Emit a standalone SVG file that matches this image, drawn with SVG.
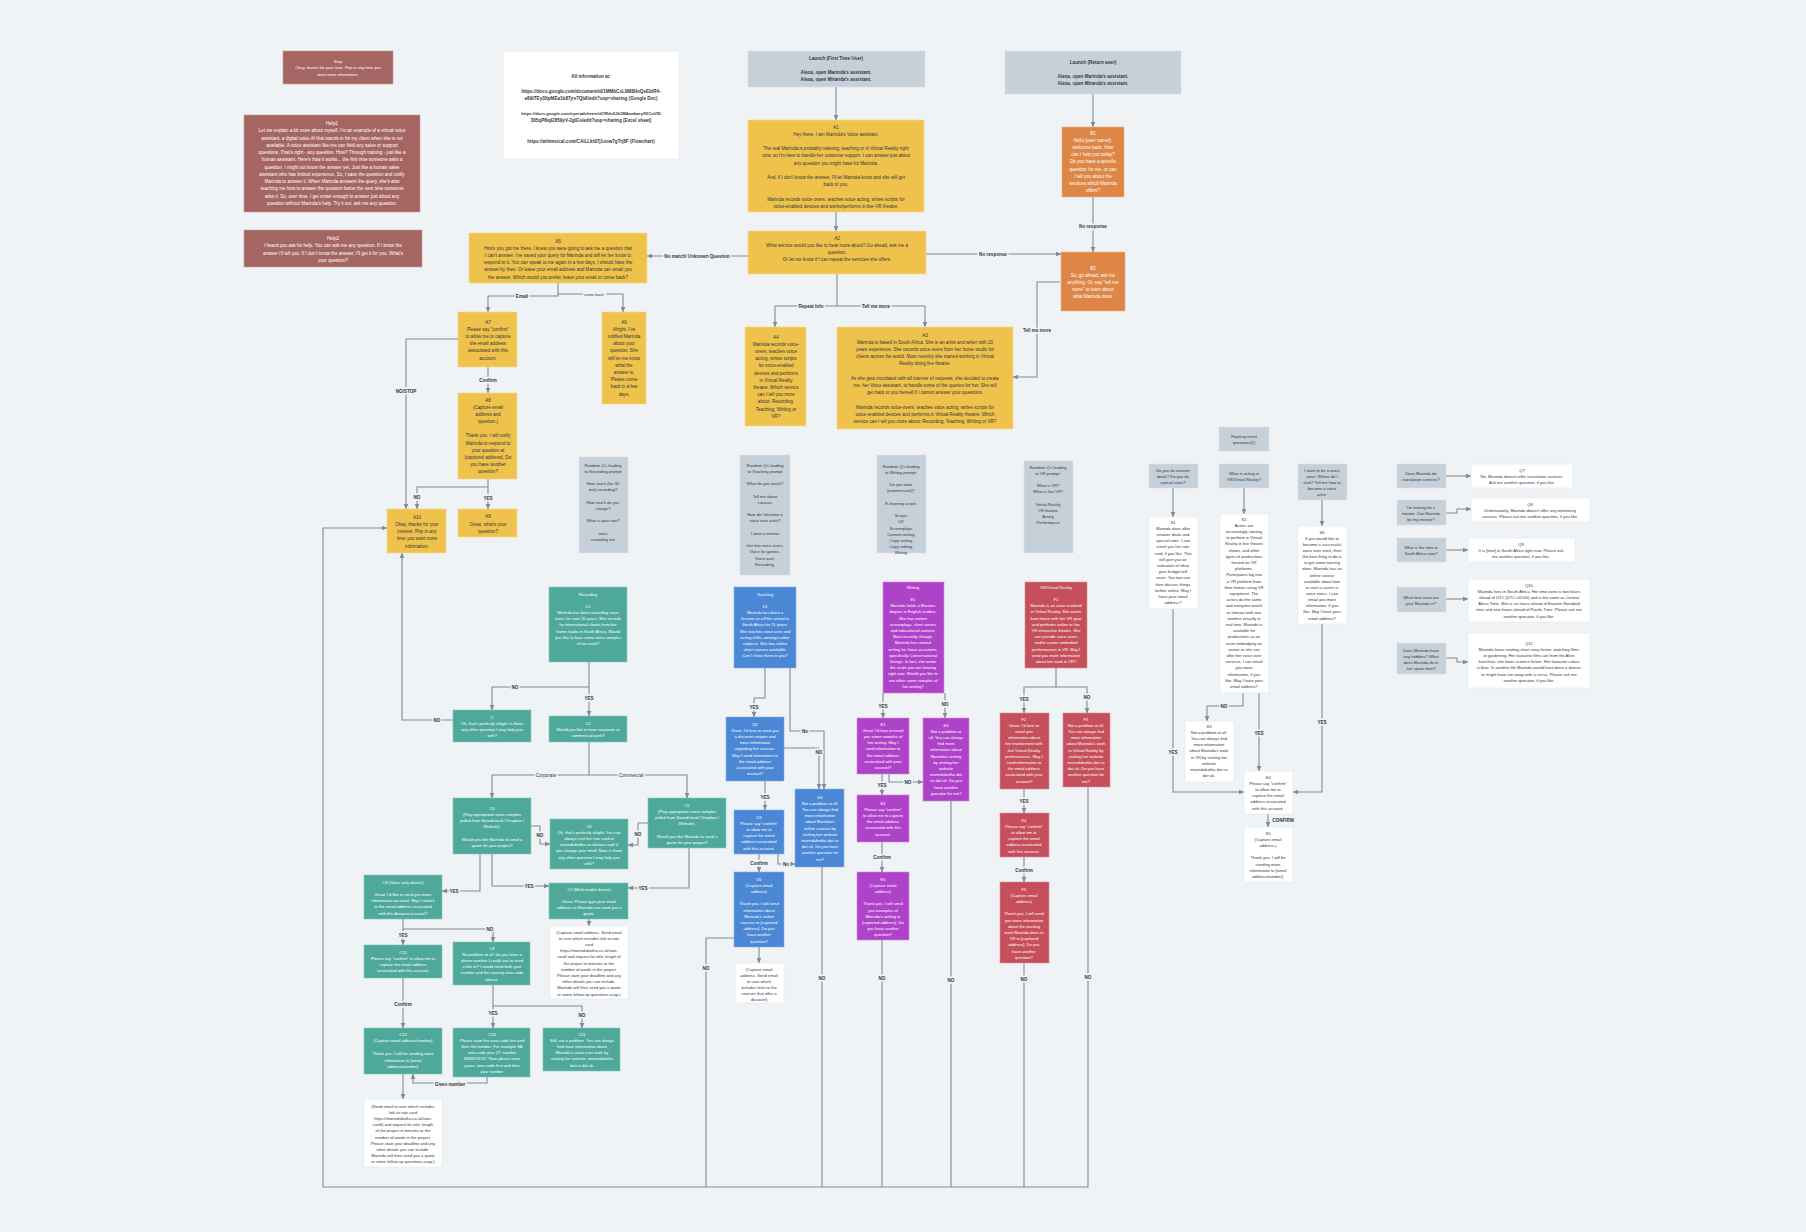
<svg xmlns="http://www.w3.org/2000/svg" width="1806" height="1232" viewBox="0 0 1806 1232">
<defs>
<marker id="ah" viewBox="0 0 6 6" refX="5.5" refY="3" markerWidth="5" markerHeight="5" orient="auto"><path d="M0,0.5 L6,3 L0,5.5 z" fill="#7d8b9a"/></marker>
<style>
text{font-family:"Liberation Sans",Arial,sans-serif;text-anchor:middle}
.s4{font-size:4.6px}.s3{font-size:4.1px}
.d{fill:#33373d}.w{fill:#ffffff}.b{font-weight:bold}
.help{fill:#a46563;stroke:#c99a98;stroke-width:0.6}
.yel{fill:#efc24c;stroke:#f5d98a;stroke-width:0.6}
.org{fill:#dd8645;stroke:#ecb386;stroke-width:0.6}
.gry{fill:#c6d0d9;stroke:#d9e0e6;stroke-width:0.6}
.tea{fill:#4fa99b;stroke:#86c6bc;stroke-width:0.6}
.blu{fill:#4a87d5;stroke:#88b0e6;stroke-width:0.6}
.pur{fill:#ae43c9;stroke:#cd8bde;stroke-width:0.6}
.red{fill:#c5505b;stroke:#dc8d94;stroke-width:0.6}
.wht{fill:#ffffff;stroke:#e2e7ec;stroke-width:0.6}
.c{fill:none;stroke:#7d8b9a;stroke-width:1.1;stroke-linejoin:round}
.ca{fill:none;stroke:#7d8b9a;stroke-width:1.1;stroke-linejoin:round;marker-end:url(#ah)}
.lbl{font-size:4.6px;font-weight:bold;fill:#33373d;paint-order:stroke;stroke:#eff3f6;stroke-width:3px}
</style>
</defs>
<rect width="1806" height="1232" fill="#eff3f6"/>

<g id="connectors">
<path class="ca" d="M836 87 V120"/>
<path class="ca" d="M836 212 V231"/>
<path class="ca" d="M1093 94 V127"/>
<path class="ca" d="M1093 197 V252"/>
<path class="ca" d="M926 254 H1061"/>
<path class="ca" d="M748 256 H647"/>
<path class="ca" d="M837 274 V306 H775 V327"/>
<path class="ca" d="M837 306 H925 V327"/>
<path class="ca" d="M1060 282 H1037 V377 H1013"/>
<path class="ca" d="M558 283 V296 H488 V312"/>
<path class="ca" d="M558 294 H623 V312"/>
<path class="ca" d="M458 339 H406 V509"/>
<path class="ca" d="M488 367 V393"/>
<path class="ca" d="M488 479 V487 H417 V509"/>
<path class="ca" d="M488 487 V509"/>
<path class="ca" d="M453 720 H402 V553"/>
<path class="ca" d="M1088 787 V1187 H323 V528 H387"/>
<path class="c" d="M1024 963 V1187"/>
<path class="c" d="M951 801 V1187"/>
<path class="c" d="M882 940 V1187"/>
<path class="c" d="M822 867 V1187"/>
<path class="c" d="M734 938 H706 V1187"/>
<path class="ca" d="M589 662 V687 H492 V710"/>
<path class="ca" d="M589 687 V716"/>
<path class="ca" d="M589 742 V775 H492 V798"/>
<path class="ca" d="M589 775 H687 V798"/>
<path class="ca" d="M531 826 H540 V844 H550"/>
<path class="ca" d="M648 823 H638 V845 H628"/>
<path class="ca" d="M480 854 V891 H442"/>
<path class="ca" d="M492 854 V886 H549"/>
<path class="ca" d="M689 848 V888 H628"/>
<path class="ca" d="M589 919 V926"/>
<path class="ca" d="M403 919 V945"/>
<path class="ca" d="M403 929 H493 V942"/>
<path class="ca" d="M403 978 V1028"/>
<path class="ca" d="M493 985 V1028"/>
<path class="ca" d="M493 1006 H582 V1028"/>
<path class="ca" d="M487 1077 V1083 H413 V1074"/>
<path class="ca" d="M403 1074 V1099"/>
<path class="ca" d="M765 668 V698 H754 V717"/>
<path class="ca" d="M790 668 V731 H824 V789"/>
<path class="ca" d="M784 748 H819 V789"/>
<path class="ca" d="M765 781 V810"/>
<path class="ca" d="M759 854 V872"/>
<path class="ca" d="M778 854 V864 H795"/>
<path class="ca" d="M759 947 V963"/>
<path class="ca" d="M883 693 V718"/>
<path class="ca" d="M945 693 V718"/>
<path class="ca" d="M889 774 V782 H923"/>
<path class="ca" d="M882 774 V795"/>
<path class="ca" d="M882 842 V872"/>
<path class="ca" d="M1056 668 V687 H1024 V713"/>
<path class="ca" d="M1056 687 H1087 V713"/>
<path class="ca" d="M1024 789 V813"/>
<path class="ca" d="M1024 857 V882"/>
<path class="ca" d="M1173 488 V517"/>
<path class="ca" d="M1244 488 V514"/>
<path class="ca" d="M1322 500 V526"/>
<path class="ca" d="M1173 609 V792 H1244"/>
<path class="ca" d="M1243 693 V706 H1207 V721"/>
<path class="ca" d="M1259 693 V771"/>
<path class="ca" d="M1322 624 V792 H1293"/>
<path class="ca" d="M1268 814 V827"/>
<path class="ca" d="M1446 476 H1471"/>
<path class="ca" d="M1446 513 H1457 V509 H1471"/>
<path class="ca" d="M1446 550 H1468"/>
<path class="ca" d="M1446 599 H1468"/>
<path class="ca" d="M1446 658 H1457 V662 H1468"/>
<text class="lbl" x="1093" y="227.5">No response</text>
<text class="lbl" x="993" y="255.5">No response</text>
<text class="lbl" x="697" y="257.5">No match/ Unknown Question</text>
<text class="lbl" x="811" y="307.5">Repeat Info</text>
<text class="lbl" x="876" y="307.5">Tell me more</text>
<text class="lbl" x="1037" y="331.5">Tell me more</text>
<text class="lbl" x="522" y="297.5">Email</text>
<text class="lbl" x="594" y="295.5" style="font-weight:normal;font-size:4.1px">come back</text>
<text class="lbl" x="406" y="392.5">NO/STOP</text>
<text class="lbl" x="488" y="381.5">Confirm</text>
<text class="lbl" x="417" y="498.5">NO</text>
<text class="lbl" x="488" y="499.5">YES</text>
<text class="lbl" x="437" y="721.5">NO</text>
<text class="lbl" x="515" y="688.5">NO</text>
<text class="lbl" x="589" y="699.5">YES</text>
<text class="lbl" x="546" y="776.5" style="font-weight:normal">Corporate</text>
<text class="lbl" x="631" y="776.5" style="font-weight:normal">Commercial</text>
<text class="lbl" x="540" y="836.5">NO</text>
<text class="lbl" x="638" y="835.5">NO</text>
<text class="lbl" x="454" y="892.5">YES</text>
<text class="lbl" x="529" y="887.5">YES</text>
<text class="lbl" x="643" y="889.5">YES</text>
<text class="lbl" x="403" y="936.5">YES</text>
<text class="lbl" x="490" y="930.5">NO</text>
<text class="lbl" x="403" y="1005.5">Confirm</text>
<text class="lbl" x="493" y="1014.5">YES</text>
<text class="lbl" x="582" y="1016.5">NO</text>
<text class="lbl" x="450" y="1085.5">Gives number</text>
<text class="lbl" x="754" y="708.5">YES</text>
<text class="lbl" x="805" y="732.5">No</text>
<text class="lbl" x="819" y="753.5">NO</text>
<text class="lbl" x="765" y="798.5">YES</text>
<text class="lbl" x="759" y="864.5">Confirm</text>
<text class="lbl" x="786" y="865.5">No</text>
<text class="lbl" x="883" y="707.5">YES</text>
<text class="lbl" x="945" y="705.5">NO</text>
<text class="lbl" x="908" y="783.5">NO</text>
<text class="lbl" x="882" y="786.5">YES</text>
<text class="lbl" x="882" y="858.5">Confirm</text>
<text class="lbl" x="1024" y="700.5">YES</text>
<text class="lbl" x="1087" y="698.5">NO</text>
<text class="lbl" x="1024" y="802.5">YES</text>
<text class="lbl" x="1024" y="871.5">Confirm</text>
<text class="lbl" x="706" y="969.5">NO</text>
<text class="lbl" x="822" y="979.5">NO</text>
<text class="lbl" x="882" y="979.5">NO</text>
<text class="lbl" x="951" y="981.5">NO</text>
<text class="lbl" x="1024" y="980.5">NO</text>
<text class="lbl" x="1088" y="978.5">NO</text>
<text class="lbl" x="1173" y="753.5">YES</text>
<text class="lbl" x="1224" y="707.5">NO</text>
<text class="lbl" x="1259" y="734.5">YES</text>
<text class="lbl" x="1322" y="723.5">YES</text>
<text class="lbl" x="1283" y="821.5">CONFIRM</text>
</g>

<g id="stop"><rect class="help" x="283" y="51" width="110" height="33"/>
<text class="w s3" x="338" y="63"><tspan x="338">Stop</tspan><tspan x="338" dy="6.3">Okay, thanks for your time. Pop in any time you</tspan><tspan x="338" dy="6.3">want more information.</tspan></text></g>

<g id="help1"><rect class="help" x="244" y="115" width="176" height="97"/>
<text class="w s4" x="332" y="125"><tspan x="332">Help1</tspan><tspan x="332" dy="7.25">Let me explain a bit more about myself. I'm an example of a virtual voice</tspan><tspan x="332" dy="7.25">assistant, a digital voice AI that stands in for my client when she is not</tspan><tspan x="332" dy="7.25">available. A voice assistant like me can field any sales or support</tspan><tspan x="332" dy="7.25">questions. That's right - any question. How? Through training - just like a</tspan><tspan x="332" dy="7.25">human assistant. Here's how it works... the first time someone asks a</tspan><tspan x="332" dy="7.25">question, I might not know the answer yet. Just like a human sales</tspan><tspan x="332" dy="7.25">assistant who has limited experience. So, I save the question and notify</tspan><tspan x="332" dy="7.25">Marinda to answer it. When Marinda answers the query, she's also</tspan><tspan x="332" dy="7.25">teaching me how to answer the question better the next time someone</tspan><tspan x="332" dy="7.25">asks it. So, over time, I get smart enough to answer just about any</tspan><tspan x="332" dy="7.25">question without Marinda's help. Try it out, ask me any question.</tspan></text></g>

<g id="help2"><rect class="help" x="244" y="230" width="178" height="37"/>
<text class="w s4" x="333" y="240"><tspan x="333">Help2</tspan><tspan x="333" dy="7.3">I heard you ask for help. You can ask me any question. If I know the</tspan><tspan x="333" dy="7.3">answer I'll tell you. If I don't know the answer, I'll get it for you. What's</tspan><tspan x="333" dy="7.3">your question?</tspan></text></g>

<g id="allinfo"><rect class="wht" x="503" y="51" width="176" height="108"/>
<text class="d s4 b" x="591" y="78"><tspan x="591">All information at:</tspan><tspan x="591" dy="14.7">https://docs.google.com/document/d/1MMbCsL0M8HoQeEbIR4-</tspan><tspan x="591" dy="7.2">e89tTEy3XpMEa1b87jrv7Qb8/edit?usp=sharing (Google Doc)</tspan><tspan x="591" dy="14.6" font-size="4.2">https://docs.google.com/spreadsheets/d/1Rds5Jk1M4awkaxyX5CoVID</tspan><tspan x="591" dy="7.6">305qP8iqI2859yV-2gIGs/edit?usp=sharing (Excel sheet)</tspan><tspan x="591" dy="21.2">https://whimsical.com/CAiLLkt97j1oow7gTrj8F (Flowchart)</tspan></text></g>

<g id="launch1"><rect class="gry" x="748" y="51" width="177" height="36"/>
<text class="d s4 b" x="836" y="59.5"><tspan x="836">Launch (First Time User)</tspan><tspan x="836" dy="14.5">Alexa, open Marinda's assistant.</tspan><tspan x="836" dy="7.2">Alexa, open Miranda's assistant.</tspan></text></g>

<g id="launch2"><rect class="gry" x="1005" y="51" width="176" height="43"/>
<text class="d s4 b" x="1093" y="63.5"><tspan x="1093">Launch (Return user)</tspan><tspan x="1093" dy="14">Alexa, open Marinda's assistant.</tspan><tspan x="1093" dy="7.3">Alexa, open Miranda's assistant.</tspan></text></g>

<g id="A1"><rect class="yel" x="748" y="120" width="176" height="92"/>
<text class="d s4" x="836" y="128.5"><tspan x="836">A1</tspan><tspan x="836" dy="7.3">Hey there. I am Marinda's Voice assistant.</tspan><tspan x="836" dy="14.3">The real Marinda is probably relaxing, teaching or in Virtual Reality right</tspan><tspan x="836" dy="7.2">now, so I'm here to handle her customer support. I can answer just about</tspan><tspan x="836" dy="7.2">any question you might have for Marinda.</tspan><tspan x="836" dy="14.3">And, if I don't know the answer, I'll let Marinda know and she will get</tspan><tspan x="836" dy="7.2">back to you.</tspan><tspan x="836" dy="14.7">Marinda records voice overs, teaches voice acting, writes scripts for</tspan><tspan x="836" dy="7.2">voice-enabled devices and works/performs in live-VR theatre.</tspan></text></g>

<g id="A2"><rect class="yel" x="748" y="231" width="178" height="43"/>
<text class="d s4" x="837" y="239.5"><tspan x="837">A2</tspan><tspan x="837" dy="7.3">What service would you like to hear more about? Go ahead, ask me a</tspan><tspan x="837" dy="7.3">question.</tspan><tspan x="837" dy="7.3">Or let me know if I can repeat the services she offers.</tspan></text></g>

<g id="B1"><rect class="org" x="1062" y="127" width="62" height="70"/>
<text class="w s4" x="1093" y="134.5"><tspan x="1093">B1</tspan><tspan x="1093" dy="7.2">Hello [user name]!,</tspan><tspan x="1093" dy="7.2">welcome back. How</tspan><tspan x="1093" dy="7.2">can I help you today?</tspan><tspan x="1093" dy="7.2">Do you have a specific</tspan><tspan x="1093" dy="7.2">question for me, or can</tspan><tspan x="1093" dy="7.2">I tell you about the</tspan><tspan x="1093" dy="7.2">services which Marinda</tspan><tspan x="1093" dy="7.2">offers?</tspan></text></g>

<g id="B2"><rect class="org" x="1061" y="252" width="64" height="59"/>
<text class="w s4" x="1093" y="269.5"><tspan x="1093">B2</tspan><tspan x="1093" dy="7.2">So, go ahead, ask me</tspan><tspan x="1093" dy="7.2">anything. Or, say &quot;tell me</tspan><tspan x="1093" dy="7.2">more&quot; to learn about</tspan><tspan x="1093" dy="7.2">what Marinda does.</tspan></text></g>

<g id="A5"><rect class="yel" x="469" y="233" width="178" height="50"/>
<text class="d s4" x="558" y="242.5"><tspan x="558">A5</tspan><tspan x="558" dy="7.2">Hmm you got me there. I knew you were going to ask me a question that</tspan><tspan x="558" dy="7.2">I can't answer. I've saved your query for Marinda and will let her know to</tspan><tspan x="558" dy="7.2">respond to it. You can speak to me again in a few days, I should have the</tspan><tspan x="558" dy="7.2">answer by then. Or leave your email address and Marinda can email you</tspan><tspan x="558" dy="7.2">the answer. Which would you prefer, leave your email or come back?</tspan></text></g>

<g id="A7"><rect class="yel" x="458" y="312" width="59" height="55"/>
<text class="d s4" x="488" y="323.5"><tspan x="488">A7</tspan><tspan x="488" dy="7.2">Please say &quot;confirm&quot;</tspan><tspan x="488" dy="7.2">to allow me to capture</tspan><tspan x="488" dy="7.2">the email address</tspan><tspan x="488" dy="7.2">associated with this</tspan><tspan x="488" dy="7.2">account.</tspan></text></g>

<g id="A6"><rect class="yel" x="602" y="312" width="44" height="92"/>
<text class="d s4" x="624" y="323.5"><tspan x="624">A6</tspan><tspan x="624" dy="7.2">Alright. I've</tspan><tspan x="624" dy="7.2">notified Marinda</tspan><tspan x="624" dy="7.2">about your</tspan><tspan x="624" dy="7.2">question. She</tspan><tspan x="624" dy="7.2">will let me know</tspan><tspan x="624" dy="7.2">what the</tspan><tspan x="624" dy="7.2">answer is.</tspan><tspan x="624" dy="7.2">Please come</tspan><tspan x="624" dy="7.2">back in a few</tspan><tspan x="624" dy="7.2">days.</tspan></text></g>

<g id="A8"><rect class="yel" x="458" y="393" width="59" height="86"/>
<text class="d s4" x="488" y="401.5"><tspan x="488">A8</tspan><tspan x="488" dy="7.2">(Capture email</tspan><tspan x="488" dy="7.2">address and</tspan><tspan x="488" dy="7.2">question.)</tspan><tspan x="488" dy="14.2">Thank you. I will notify</tspan><tspan x="488" dy="7.2">Marinda to respond to</tspan><tspan x="488" dy="7.2">your question at</tspan><tspan x="488" dy="7.2">[captured address]. Do</tspan><tspan x="488" dy="7.2">you have another</tspan><tspan x="488" dy="7.2">question?</tspan></text></g>

<g id="A10"><rect class="yel" x="387" y="509" width="59" height="44"/>
<text class="d s4" x="417" y="518.5"><tspan x="417">A10</tspan><tspan x="417" dy="7.3">Okay, thanks for your</tspan><tspan x="417" dy="7.3">interest. Pop in any</tspan><tspan x="417" dy="7.3">time you want more</tspan><tspan x="417" dy="7.3">information.</tspan></text></g>

<g id="A9"><rect class="yel" x="458" y="509" width="59" height="28"/>
<text class="d s4" x="488" y="518"><tspan x="488">A9</tspan><tspan x="488" dy="7.5">Great, what's your</tspan><tspan x="488" dy="7.3">question?</tspan></text></g>

<g id="A4"><rect class="yel" x="745" y="327" width="61" height="99"/>
<text class="d s4" x="776" y="338.5"><tspan x="776">A4</tspan><tspan x="776" dy="7.2">Marinda records voice-</tspan><tspan x="776" dy="7.2">overs, teaches voice</tspan><tspan x="776" dy="7.2">acting, writes scripts</tspan><tspan x="776" dy="7.2">for voice-enabled</tspan><tspan x="776" dy="7.2">devices and performs</tspan><tspan x="776" dy="7.2">in Virtual Reality</tspan><tspan x="776" dy="7.2">theatre. Which service</tspan><tspan x="776" dy="7.2">can I tell you more</tspan><tspan x="776" dy="7.2">about: Recording,</tspan><tspan x="776" dy="7.2">Teaching, Writing or</tspan><tspan x="776" dy="7.2">VR?</tspan></text></g>

<g id="A3"><rect class="yel" x="837" y="327" width="176" height="102"/>
<text class="d s4" x="925" y="336.5"><tspan x="925">A3</tspan><tspan x="925" dy="7.2">Marinda is based in South Africa. She is an artist and writer with 20</tspan><tspan x="925" dy="7.2">years experience. She records voice overs from her home studio for</tspan><tspan x="925" dy="7.2">clients across the world. Most recently she started working in Virtual</tspan><tspan x="925" dy="7.2">Reality doing live theatre.</tspan><tspan x="925" dy="14.4">As she gets inundated with all manner of requests, she decided to create</tspan><tspan x="925" dy="7.2">me, her Voice assistant, to handle some of the queries for her. She will</tspan><tspan x="925" dy="7.2">get back to you herself if I cannot answer your questions.</tspan><tspan x="925" dy="14.4">Marinda records voice-overs, teaches voice acting, writes scripts for</tspan><tspan x="925" dy="7.2">voice-enabled devices and performs in Virtual Reality theatre. Which</tspan><tspan x="925" dy="7.2">service can I tell you more about: Recording, Teaching, Writing or VR?</tspan></text></g>

<g id="rq-recording"><rect class="gry" x="579" y="457" width="49" height="96"/>
<text class="d s3" x="603" y="466.5"><tspan x="603">Random Q's leading</tspan><tspan x="603" dy="6.2">to Recording prompt</tspan><tspan x="603" dy="12.4">How much (for 30</tspan><tspan x="603" dy="6.2">min) recording?</tspan><tspan x="603" dy="12.4">How much do you</tspan><tspan x="603" dy="6.2">charge?</tspan><tspan x="603" dy="12.4">What is your rate?</tspan><tspan x="603" dy="12.4">rates</tspan><tspan x="603" dy="6.2">recording fee</tspan></text></g>

<g id="rq-teaching"><rect class="gry" x="740" y="455" width="50" height="120"/>
<text class="d s3" x="765" y="466.5"><tspan x="765">Random Q's leading</tspan><tspan x="765" dy="6.2">to Teaching prompt</tspan><tspan x="765" dy="12.4">What do you teach?</tspan><tspan x="765" dy="12.4">Tell me about</tspan><tspan x="765" dy="6.2">courses</tspan><tspan x="765" dy="12.4">How do I become a</tspan><tspan x="765" dy="6.2">voice over artist?</tspan><tspan x="765" dy="12.4">I want a mentor</tspan><tspan x="765" dy="12.4">Get into voice overs.</tspan><tspan x="765" dy="6.2">Voice for games.</tspan><tspan x="765" dy="6.2">Voice over.</tspan><tspan x="765" dy="6.2">Recording.</tspan></text></g>

<g id="rq-writing"><rect class="gry" x="877" y="455" width="49" height="98"/>
<text class="d s3" x="901" y="467.5"><tspan x="901">Random Q's leading</tspan><tspan x="901" dy="6.2">to Writing prompt:</tspan><tspan x="901" dy="12.4">Do you write</tspan><tspan x="901" dy="6.2">[commercials]?</tspan><tspan x="901" dy="12.4">E-learning scripts</tspan><tspan x="901" dy="12.4">Scripts</tspan><tspan x="901" dy="6.2">UX</tspan><tspan x="901" dy="6.2">Screenplays</tspan><tspan x="901" dy="6.2">Content writing</tspan><tspan x="901" dy="6.2">Copy writing</tspan><tspan x="901" dy="6.2">Copy editing</tspan><tspan x="901" dy="6.2">Writing</tspan></text></g>

<g id="rq-vr"><rect class="gry" x="1024" y="461" width="49" height="92"/>
<text class="d s3" x="1048" y="468.5"><tspan x="1048">Random Q's leading</tspan><tspan x="1048" dy="6.2">to VR prompt:</tspan><tspan x="1048" dy="12.4">What is VR?</tspan><tspan x="1048" dy="6.2">What is live VR?</tspan><tspan x="1048" dy="12.4">Virtual Reality</tspan><tspan x="1048" dy="6.2">VR theatre</tspan><tspan x="1048" dy="6.2">Acting</tspan><tspan x="1048" dy="6.2">Performance</tspan></text></g>

<g id="floating"><rect class="gry" x="1219" y="427" width="50" height="24"/>
<text class="d s3" x="1244" y="437.5"><tspan x="1244">Floating intent</tspan><tspan x="1244" dy="6.2">questions(2)</tspan></text></g>

<g id="q-retainer"><rect class="gry" x="1149" y="464" width="49" height="24"/>
<text class="d s3" x="1173" y="471.5"><tspan x="1173">Do you do retainer</tspan><tspan x="1173" dy="6.2">deals? Do you do</tspan><tspan x="1173" dy="6.2">special rates?</tspan></text></g>

<g id="q-actingvr"><rect class="gry" x="1219" y="464" width="50" height="24"/>
<text class="d s3" x="1244" y="474.5"><tspan x="1244">What is acting in</tspan><tspan x="1244" dy="6.2">VR/Virtual Reality?</tspan></text></g>

<g id="q-voiceartist"><rect class="gry" x="1298" y="464" width="49" height="36"/>
<text class="d s3" x="1322" y="471.5"><tspan x="1322">I want to be a voice</tspan><tspan x="1322" dy="6.1">artist. Where do I</tspan><tspan x="1322" dy="6.1">start? Tell me how to</tspan><tspan x="1322" dy="6.1">become a voice</tspan><tspan x="1322" dy="6.1">artist.</tspan></text></g>

<g id="S1"><rect class="wht" x="1149" y="517" width="49" height="92"/>
<text class="d s3" x="1173" y="523.5"><tspan x="1173">S1</tspan><tspan x="1173" dy="6.2">Marinda does offer</tspan><tspan x="1173" dy="6.2">retainer deals and</tspan><tspan x="1173" dy="6.2">special rates. I can</tspan><tspan x="1173" dy="6.2">email you her rate</tspan><tspan x="1173" dy="6.2">card, if you like. This</tspan><tspan x="1173" dy="6.2">will give you an</tspan><tspan x="1173" dy="6.2">indication of what</tspan><tspan x="1173" dy="6.2">your budget will</tspan><tspan x="1173" dy="6.2">cover. You two can</tspan><tspan x="1173" dy="6.2">then discuss things</tspan><tspan x="1173" dy="6.2">further online. May I</tspan><tspan x="1173" dy="6.2">have your email</tspan><tspan x="1173" dy="6.2">address?</tspan></text></g>

<g id="S2"><rect class="wht" x="1220" y="514" width="49" height="179"/>
<text class="d s3" x="1244" y="520.5"><tspan x="1244">S2</tspan><tspan x="1244" dy="6.2">Actors are</tspan><tspan x="1244" dy="6.2">increasingly starting</tspan><tspan x="1244" dy="6.2">to perform in Virtual</tspan><tspan x="1244" dy="6.2">Reality in live theatre</tspan><tspan x="1244" dy="6.2">shows, and other</tspan><tspan x="1244" dy="6.2">types of productions</tspan><tspan x="1244" dy="6.2">hosted on VR</tspan><tspan x="1244" dy="6.2">platforms.</tspan><tspan x="1244" dy="6.2">Participants log into</tspan><tspan x="1244" dy="6.2">a VR platform from</tspan><tspan x="1244" dy="6.2">their homes using VR</tspan><tspan x="1244" dy="6.2">equipment. The</tspan><tspan x="1244" dy="6.2">actors do the same</tspan><tspan x="1244" dy="6.2">and everyone watch</tspan><tspan x="1244" dy="6.2">or interact with one</tspan><tspan x="1244" dy="6.2">another virtually in</tspan><tspan x="1244" dy="6.2">real time. Marinda is</tspan><tspan x="1244" dy="6.2">available for</tspan><tspan x="1244" dy="6.2">productions as an</tspan><tspan x="1244" dy="6.2">actor embodying an</tspan><tspan x="1244" dy="6.2">avatar or she can</tspan><tspan x="1244" dy="6.2">offer her voice over</tspan><tspan x="1244" dy="6.2">services. I can email</tspan><tspan x="1244" dy="6.2">you more</tspan><tspan x="1244" dy="6.2">information, if you</tspan><tspan x="1244" dy="6.2">like. May I have your</tspan><tspan x="1244" dy="6.2">email address?</tspan></text></g>

<g id="S6"><rect class="wht" x="1298" y="526" width="49" height="98"/>
<text class="d s3" x="1322" y="533.5"><tspan x="1322">S6</tspan><tspan x="1322" dy="6.15">If you would like to</tspan><tspan x="1322" dy="6.15">become a successful</tspan><tspan x="1322" dy="6.15">voice over artist, then</tspan><tspan x="1322" dy="6.15">the best thing to do is</tspan><tspan x="1322" dy="6.15">to get some training</tspan><tspan x="1322" dy="6.15">done. Marinda has an</tspan><tspan x="1322" dy="6.15">online course</tspan><tspan x="1322" dy="6.15">available about how</tspan><tspan x="1322" dy="6.15">to start a career in</tspan><tspan x="1322" dy="6.15">voice overs. I can</tspan><tspan x="1322" dy="6.15">email you more</tspan><tspan x="1322" dy="6.15">information, if you</tspan><tspan x="1322" dy="6.15">like. May I have your</tspan><tspan x="1322" dy="6.15">email address?</tspan></text></g>

<g id="S3"><rect class="wht" x="1185" y="721" width="49" height="61"/>
<text class="d s3" x="1209" y="727.5"><tspan x="1209">S3</tspan><tspan x="1209" dy="6.2">Not a problem at all.</tspan><tspan x="1209" dy="6.2">You can always find</tspan><tspan x="1209" dy="6.2">more information</tspan><tspan x="1209" dy="6.2">about Marinda's work</tspan><tspan x="1209" dy="6.2">in VR by visiting her</tspan><tspan x="1209" dy="6.2">website</tspan><tspan x="1209" dy="6.2">marindabotha dot co</tspan><tspan x="1209" dy="6.2">dot uk.</tspan></text></g>

<g id="S4"><rect class="wht" x="1244" y="771" width="49" height="43"/>
<text class="d s3" x="1268" y="778.5"><tspan x="1268">S4</tspan><tspan x="1268" dy="6.2">Please say &quot;confirm&quot;</tspan><tspan x="1268" dy="6.2">to allow me to</tspan><tspan x="1268" dy="6.2">capture the email</tspan><tspan x="1268" dy="6.2">address associated</tspan><tspan x="1268" dy="6.2">with this account.</tspan></text></g>

<g id="S5"><rect class="wht" x="1244" y="827" width="49" height="55"/>
<text class="d s3" x="1268" y="834.5"><tspan x="1268">S5</tspan><tspan x="1268" dy="6.2">(Capture email</tspan><tspan x="1268" dy="6.2">address.)</tspan><tspan x="1268" dy="12.4">Thank you. I will be</tspan><tspan x="1268" dy="6.2">sending more</tspan><tspan x="1268" dy="6.2">information to [email</tspan><tspan x="1268" dy="6.2">address/number].</tspan></text></g>

<g id="q-translation"><rect class="gry" x="1397" y="464" width="49" height="24"/>
<text class="d s3" x="1421" y="474.5"><tspan x="1421">Does Marinda do</tspan><tspan x="1421" dy="6.2">translation services?</tspan></text></g>
<g id="Q7"><rect class="wht" x="1471" y="464" width="102" height="24"/>
<text class="d s3" x="1522" y="471.5"><tspan x="1522">Q7</tspan><tspan x="1522" dy="6.2">No. Marinda doesn't offer translation services.</tspan><tspan x="1522" dy="6.2">Ask me another question, if you like.</tspan></text></g>

<g id="q-mentor"><rect class="gry" x="1397" y="500" width="49" height="25"/>
<text class="d s3" x="1421" y="508.5"><tspan x="1421">I'm looking for a</tspan><tspan x="1421" dy="6.2">mentor. Can Marinda</tspan><tspan x="1421" dy="6.2">be my mentor?</tspan></text></g>
<g id="Q8"><rect class="wht" x="1471" y="498" width="119" height="24"/>
<text class="d s3" x="1530" y="505.5"><tspan x="1530">Q8</tspan><tspan x="1530" dy="6.2">Unfortunately, Marinda doesn't offer any mentoring</tspan><tspan x="1530" dy="6.2">services. Please ask me another question, if you like.</tspan></text></g>

<g id="q-time"><rect class="gry" x="1397" y="538" width="49" height="24"/>
<text class="d s3" x="1421" y="548.5"><tspan x="1421">What is the time in</tspan><tspan x="1421" dy="6.2">South Africa now?</tspan></text></g>
<g id="Q9"><rect class="wht" x="1468" y="538" width="107" height="24"/>
<text class="d s3" x="1521" y="545.5"><tspan x="1521">Q9</tspan><tspan x="1521" dy="6.2">It is [time] in South Africa right now. Please ask</tspan><tspan x="1521" dy="6.2">me another question, if you like.</tspan></text></g>

<g id="q-timezone"><rect class="gry" x="1397" y="587" width="49" height="25"/>
<text class="d s3" x="1421" y="598.5"><tspan x="1421">What time zone are</tspan><tspan x="1421" dy="6.2">you/ Marinda in?</tspan></text></g>
<g id="Q10"><rect class="wht" x="1468" y="579" width="122" height="43"/>
<text class="d s3" x="1529" y="586.5"><tspan x="1529">Q10</tspan><tspan x="1529" dy="6.2">Marinda lives in South Africa. Her time zone is two hours</tspan><tspan x="1529" dy="6.2">ahead of UTC (UTC+02:00) and is the same as Central</tspan><tspan x="1529" dy="6.2">Africa Time. She is six hours ahead of Eastern Standard</tspan><tspan x="1529" dy="6.2">time and nine hours ahead of Pacific Time. Please ask me</tspan><tspan x="1529" dy="6.2">another question, if you like.</tspan></text></g>

<g id="q-hobbies"><rect class="gry" x="1397" y="643" width="49" height="31"/>
<text class="d s3" x="1421" y="651.5"><tspan x="1421">Does Marinda have</tspan><tspan x="1421" dy="6.2">any hobbies? What</tspan><tspan x="1421" dy="6.2">does Marinda do in</tspan><tspan x="1421" dy="6.2">her spare time?</tspan></text></g>
<g id="Q11"><rect class="wht" x="1468" y="633" width="122" height="55"/>
<text class="d s3" x="1529" y="644.5"><tspan x="1529">Q11</tspan><tspan x="1529" dy="6.2">Marinda loves reading short story fiction, watching films</tspan><tspan x="1529" dy="6.2">or gardening. Her favourite films are from the Alien</tspan><tspan x="1529" dy="6.2">franchise, she loves science fiction. Her favourite colour</tspan><tspan x="1529" dy="6.2">is blue. In another life Marinda would have been a dancer</tspan><tspan x="1529" dy="6.2">or might have run away with a circus. Please ask me</tspan><tspan x="1529" dy="6.2">another question, if you like.</tspan></text></g>

<g id="C1"><rect class="tea" x="549" y="587" width="78" height="75"/>
<text class="w s3" x="588" y="595.5"><tspan x="588">Recording</tspan><tspan x="588" dy="12.2">C1</tspan><tspan x="588" dy="6.2">Marinda has been recording voice</tspan><tspan x="588" dy="6.2">overs for over 20 years. She records</tspan><tspan x="588" dy="6.2">for international clients from her</tspan><tspan x="588" dy="6.2">home studio in South Africa. Would</tspan><tspan x="588" dy="6.2">you like to hear some voice samples</tspan><tspan x="588" dy="6.2">of her work?</tspan></text></g>

<g id="C"><rect class="tea" x="453" y="710" width="78" height="32"/>
<text class="w s3" x="492" y="718.5"><tspan x="492">C</tspan><tspan x="492" dy="6.2">Ok, that's perfectly alright. Is there</tspan><tspan x="492" dy="6.2">any other question I may help you</tspan><tspan x="492" dy="6.2">with?</tspan></text></g>

<g id="C2"><rect class="tea" x="549" y="716" width="78" height="26"/>
<text class="w s3" x="588" y="724.5"><tspan x="588">C2</tspan><tspan x="588" dy="6.2">Would you like to hear corporate or</tspan><tspan x="588" dy="6.2">commercial work?</tspan></text></g>

<g id="C4"><rect class="tea" x="453" y="798" width="78" height="56"/>
<text class="w s3" x="492" y="809.5"><tspan x="492">C4</tspan><tspan x="492" dy="6.2">(Play appropriate voice samples</tspan><tspan x="492" dy="6.2">pulled from Soundcloud / Dropbox /</tspan><tspan x="492" dy="6.2">Website).</tspan><tspan x="492" dy="12.4">Would you like Marinda to send a</tspan><tspan x="492" dy="6.2">quote for your project?</tspan></text></g>

<g id="C5"><rect class="tea" x="648" y="798" width="78" height="50"/>
<text class="w s3" x="687" y="806.5"><tspan x="687">C5</tspan><tspan x="687" dy="6.2">(Play appropriate voice samples</tspan><tspan x="687" dy="6.2">pulled from Soundcloud / Dropbox /</tspan><tspan x="687" dy="6.2">Website).</tspan><tspan x="687" dy="12.4">Would you like Marinda to send a</tspan><tspan x="687" dy="6.2">quote for your project?</tspan></text></g>

<g id="C6"><rect class="tea" x="550" y="819" width="78" height="50"/>
<text class="w s3" x="589" y="827.5"><tspan x="589">C6</tspan><tspan x="589" dy="6.2">Ok, that's perfectly alright. You can</tspan><tspan x="589" dy="6.2">always visit her rate card at</tspan><tspan x="589" dy="6.2">marindabotha.co.uk/rate-card/ if</tspan><tspan x="589" dy="6.2">you change your mind. Now, is there</tspan><tspan x="589" dy="6.2">any other question I may help you</tspan><tspan x="589" dy="6.2">with?</tspan></text></g>

<g id="C8"><rect class="tea" x="364" y="875" width="78" height="44"/>
<text class="w s3" x="403" y="883.5"><tspan x="403">C8 (Voice only device)</tspan><tspan x="403" dy="12.4">Great. I'd like to send you more</tspan><tspan x="403" dy="6.2">information via email. May I send it</tspan><tspan x="403" dy="6.2">to the email address associated</tspan><tspan x="403" dy="6.2">with this Amazon account?</tspan></text></g>

<g id="C7"><rect class="tea" x="549" y="883" width="79" height="36"/>
<text class="w s3" x="589" y="890.5"><tspan x="589">C7 (Multi-modal device)</tspan><tspan x="589" dy="12.4">Great. Please type your email</tspan><tspan x="589" dy="6.2">address so Marinda can send you a</tspan><tspan x="589" dy="6.2">quote.</tspan></text></g>

<g id="C7-note"><rect class="wht" x="550" y="926" width="78" height="73"/>
<text class="d s3" x="589" y="933.5"><tspan x="589">(Capture email address. Send email</tspan><tspan x="589" dy="6.2">to user which includes link to rate</tspan><tspan x="589" dy="6.2">card</tspan><tspan x="589" dy="6.2">https://marindabotha.co.uk/rate-</tspan><tspan x="589" dy="6.2">card/ and request for info: length of</tspan><tspan x="589" dy="6.2">the project in minutes or the</tspan><tspan x="589" dy="6.2">number of words in the project.</tspan><tspan x="589" dy="6.2">Please state your deadline and any</tspan><tspan x="589" dy="6.2">other details you can include.</tspan><tspan x="589" dy="6.2">Marinda will then send you a quote</tspan><tspan x="589" dy="6.2">or some follow-up questions asap.)</tspan></text></g>

<g id="C12"><rect class="tea" x="364" y="945" width="78" height="33"/>
<text class="w s3" x="403" y="953.5"><tspan x="403">C12</tspan><tspan x="403" dy="6.3">Please say &quot;confirm&quot; to allow me to</tspan><tspan x="403" dy="6.3">capture the email address</tspan><tspan x="403" dy="6.3">associated with this account.</tspan></text></g>

<g id="C9"><rect class="tea" x="453" y="942" width="77" height="43"/>
<text class="w s3" x="492" y="949.5"><tspan x="492">C9</tspan><tspan x="492" dy="6.2">No problem at all. Do you have a</tspan><tspan x="492" dy="6.2">phone number I could use to send</tspan><tspan x="492" dy="6.2">a link to? I would need both your</tspan><tspan x="492" dy="6.2">number and the country area code</tspan><tspan x="492" dy="6.2">please.</tspan></text></g>

<g id="C13"><rect class="tea" x="364" y="1028" width="78" height="46"/>
<text class="w s3" x="403" y="1035.5"><tspan x="403">C13</tspan><tspan x="403" dy="6.8">(Capture email address/number)</tspan><tspan x="403" dy="13">Thank you. I will be sending more</tspan><tspan x="403" dy="6.2">information to [email</tspan><tspan x="403" dy="6.2">address/number].</tspan></text></g>

<g id="C10"><rect class="tea" x="453" y="1028" width="77" height="49"/>
<text class="w s3" x="492" y="1035.5"><tspan x="492">C10</tspan><tspan x="492" dy="6.2">Please state the area code first and</tspan><tspan x="492" dy="6.2">then the number. For example SA</tspan><tspan x="492" dy="6.2">area code plus 27, number</tspan><tspan x="492" dy="6.2">0849374747. Now please state</tspan><tspan x="492" dy="6.2">yours, area code first and then</tspan><tspan x="492" dy="6.2">your number</tspan></text></g>

<g id="C11"><rect class="tea" x="543" y="1028" width="77" height="43"/>
<text class="w s3" x="582" y="1035.5"><tspan x="582">C11</tspan><tspan x="582" dy="6.2">Still, not a problem. You can always</tspan><tspan x="582" dy="6.2">find more information about</tspan><tspan x="582" dy="6.2">Marinda's voice over work by</tspan><tspan x="582" dy="6.2">visiting her website: marindabotha</tspan><tspan x="582" dy="6.2">dot co dot uk.</tspan></text></g>

<g id="C13-note"><rect class="wht" x="364" y="1099" width="78" height="68"/>
<text class="d s3" x="403" y="1107.5"><tspan x="403">(Send email to user which includes</tspan><tspan x="403" dy="6.2">link to rate card</tspan><tspan x="403" dy="6.2">https://marindabotha.co.uk/rate-</tspan><tspan x="403" dy="6.2">card/) and request for info: length</tspan><tspan x="403" dy="6.2">of the project in minutes or the</tspan><tspan x="403" dy="6.2">number of words in the project.</tspan><tspan x="403" dy="6.2">Please state your deadline and any</tspan><tspan x="403" dy="6.2">other details you can include.</tspan><tspan x="403" dy="6.2">Marinda will then send you a quote</tspan><tspan x="403" dy="6.2">or some follow-up questions asap.)</tspan></text></g>

<g id="D1"><rect class="blu" x="734" y="587" width="62" height="81"/>
<text class="w s3" x="765" y="595.5"><tspan x="765">Teaching</tspan><tspan x="765" dy="12.2">D1</tspan><tspan x="765" dy="6.2">Marinda has been a</tspan><tspan x="765" dy="6.2">lecturer at a Film school in</tspan><tspan x="765" dy="6.2">South Africa for 11 years.</tspan><tspan x="765" dy="6.2">She teaches voice over and</tspan><tspan x="765" dy="6.2">acting skills, amongst other</tspan><tspan x="765" dy="6.2">subjects. She has online</tspan><tspan x="765" dy="6.2">short courses available.</tspan><tspan x="765" dy="6.2">Can I show them to you?</tspan></text></g>

<g id="D2"><rect class="blu" x="726" y="717" width="58" height="64"/>
<text class="w s3" x="755" y="725.5"><tspan x="755">D2</tspan><tspan x="755" dy="6.2">Great. I'd love to send you</tspan><tspan x="755" dy="6.2">a discount coupon and</tspan><tspan x="755" dy="6.2">more information</tspan><tspan x="755" dy="6.2">regarding her courses.</tspan><tspan x="755" dy="6.2">May I send information to</tspan><tspan x="755" dy="6.2">the email address</tspan><tspan x="755" dy="6.2">associated with your</tspan><tspan x="755" dy="6.2">account?</tspan></text></g>

<g id="D3"><rect class="blu" x="734" y="810" width="50" height="44"/>
<text class="w s3" x="759" y="818.5"><tspan x="759">D3</tspan><tspan x="759" dy="6.2">Please say &quot;confirm&quot;</tspan><tspan x="759" dy="6.2">to allow me to</tspan><tspan x="759" dy="6.2">capture the email</tspan><tspan x="759" dy="6.2">address associated</tspan><tspan x="759" dy="6.2">with this account.</tspan></text></g>

<g id="D4"><rect class="blu" x="795" y="789" width="49" height="78"/>
<text class="w s3" x="820" y="798.5"><tspan x="820">D4</tspan><tspan x="820" dy="6.2">Not a problem at all.</tspan><tspan x="820" dy="6.2">You can always find</tspan><tspan x="820" dy="6.2">more information</tspan><tspan x="820" dy="6.2">about Marinda's</tspan><tspan x="820" dy="6.2">online courses by</tspan><tspan x="820" dy="6.2">visiting her website</tspan><tspan x="820" dy="6.2">marindabotha dot co</tspan><tspan x="820" dy="6.2">dot uk. Do you have</tspan><tspan x="820" dy="6.2">another question for</tspan><tspan x="820" dy="6.2">me?</tspan></text></g>

<g id="D5"><rect class="blu" x="734" y="872" width="50" height="75"/>
<text class="w s3" x="759" y="880.5"><tspan x="759">D5</tspan><tspan x="759" dy="6.2">(Capture email</tspan><tspan x="759" dy="6.2">address)</tspan><tspan x="759" dy="12.4">Thank you. I will send</tspan><tspan x="759" dy="6.2">information about</tspan><tspan x="759" dy="6.2">Marinda's online</tspan><tspan x="759" dy="6.2">courses to [captured</tspan><tspan x="759" dy="6.2">address]. Do you</tspan><tspan x="759" dy="6.2">have another</tspan><tspan x="759" dy="6.2">question?</tspan></text></g>

<g id="D5-note"><rect class="wht" x="735" y="963" width="49" height="40"/>
<text class="d s3" x="759" y="970.5"><tspan x="759">(Capture email</tspan><tspan x="759" dy="6.1">address. Send email</tspan><tspan x="759" dy="6.1">to user which</tspan><tspan x="759" dy="6.1">includes links to the</tspan><tspan x="759" dy="6.1">courses that offer a</tspan><tspan x="759" dy="6.1">discount)</tspan></text></g>

<g id="E1"><rect class="pur" x="883" y="582" width="61" height="111"/>
<text class="w s3" x="913" y="588.5"><tspan x="913">Writing</tspan><tspan x="913" dy="12.4">E1</tspan><tspan x="913" dy="6.2">Marinda holds a Masters</tspan><tspan x="913" dy="6.2">degree in English studies.</tspan><tspan x="913" dy="6.2">She has written</tspan><tspan x="913" dy="6.2">screenplays, short stories</tspan><tspan x="913" dy="6.2">and educational content.</tspan><tspan x="913" dy="6.2">Most recently, though,</tspan><tspan x="913" dy="6.2">Marinda has started</tspan><tspan x="913" dy="6.2">writing for Voice assistants,</tspan><tspan x="913" dy="6.2">specifically Conversational</tspan><tspan x="913" dy="6.2">Design. In fact, she wrote</tspan><tspan x="913" dy="6.2">the script you are hearing</tspan><tspan x="913" dy="6.2">right now. Would you like to</tspan><tspan x="913" dy="6.2">see other some samples of</tspan><tspan x="913" dy="6.2">her writing?</tspan></text></g>

<g id="E2"><rect class="pur" x="857" y="718" width="52" height="56"/>
<text class="w s3" x="883" y="725.5"><tspan x="883">E2</tspan><tspan x="883" dy="6.2">Great. I'd love to email</tspan><tspan x="883" dy="6.2">you some samples of</tspan><tspan x="883" dy="6.2">her writing. May I</tspan><tspan x="883" dy="6.2">send information to</tspan><tspan x="883" dy="6.2">the email address</tspan><tspan x="883" dy="6.2">associated with your</tspan><tspan x="883" dy="6.2">account?</tspan></text></g>

<g id="E3"><rect class="pur" x="923" y="718" width="46" height="83"/>
<text class="w s3" x="946" y="726.5"><tspan x="946">E3</tspan><tspan x="946" dy="6.2">Not a problem at</tspan><tspan x="946" dy="6.2">all. You can always</tspan><tspan x="946" dy="6.2">find more</tspan><tspan x="946" dy="6.2">information about</tspan><tspan x="946" dy="6.2">Marinda's writing</tspan><tspan x="946" dy="6.2">by visiting her</tspan><tspan x="946" dy="6.2">website</tspan><tspan x="946" dy="6.2">marindabotha dot</tspan><tspan x="946" dy="6.2">co dot uk. Do you</tspan><tspan x="946" dy="6.2">have another</tspan><tspan x="946" dy="6.2">question for me?</tspan></text></g>

<g id="E4"><rect class="pur" x="857" y="795" width="52" height="47"/>
<text class="w s3" x="883" y="804.5"><tspan x="883">E4</tspan><tspan x="883" dy="6.2">Please say &quot;confirm&quot;</tspan><tspan x="883" dy="6.2">to allow me to capture</tspan><tspan x="883" dy="6.2">the email address</tspan><tspan x="883" dy="6.2">associated with this</tspan><tspan x="883" dy="6.2">account.</tspan></text></g>

<g id="E5"><rect class="pur" x="857" y="872" width="52" height="68"/>
<text class="w s3" x="883" y="880.5"><tspan x="883">E5</tspan><tspan x="883" dy="6.2">(Capture email</tspan><tspan x="883" dy="6.2">address)</tspan><tspan x="883" dy="12.4">Thank you. I will send</tspan><tspan x="883" dy="6.2">you examples of</tspan><tspan x="883" dy="6.2">Marinda's writing to</tspan><tspan x="883" dy="6.2">[captured address]. Do</tspan><tspan x="883" dy="6.2">you have another</tspan><tspan x="883" dy="6.2">question?</tspan></text></g>

<g id="F1"><rect class="red" x="1025" y="582" width="62" height="86"/>
<text class="w s3" x="1056" y="588.5"><tspan x="1056">VR/Virtual Reality</tspan><tspan x="1056" dy="12.4">F1</tspan><tspan x="1056" dy="6.2">Marinda is an actor involved</tspan><tspan x="1056" dy="6.2">in Virtual Reality. She works</tspan><tspan x="1056" dy="6.2">from home with her VR gear</tspan><tspan x="1056" dy="6.2">and performs online in live</tspan><tspan x="1056" dy="6.2">VR interactive theatre. She</tspan><tspan x="1056" dy="6.2">can provide voice overs</tspan><tspan x="1056" dy="6.2">and/or avatar embodied</tspan><tspan x="1056" dy="6.2">performances in VR. May I</tspan><tspan x="1056" dy="6.2">send you more information</tspan><tspan x="1056" dy="6.2">about her work in VR?</tspan></text></g>

<g id="F2"><rect class="red" x="1000" y="713" width="49" height="76"/>
<text class="w s3" x="1024" y="720.5"><tspan x="1024">F2</tspan><tspan x="1024" dy="6.2">Great. I'd love to</tspan><tspan x="1024" dy="6.2">email you</tspan><tspan x="1024" dy="6.2">information about</tspan><tspan x="1024" dy="6.2">her involvement with</tspan><tspan x="1024" dy="6.2">live Virtual Reality</tspan><tspan x="1024" dy="6.2">performances. May I</tspan><tspan x="1024" dy="6.2">send information to</tspan><tspan x="1024" dy="6.2">the email address</tspan><tspan x="1024" dy="6.2">associated with your</tspan><tspan x="1024" dy="6.2">account?</tspan></text></g>

<g id="F3"><rect class="red" x="1063" y="713" width="47" height="74"/>
<text class="w s3" x="1086" y="720.5"><tspan x="1086">F3</tspan><tspan x="1086" dy="6.2">Not a problem at all.</tspan><tspan x="1086" dy="6.2">You can always find</tspan><tspan x="1086" dy="6.2">more information</tspan><tspan x="1086" dy="6.2">about Marinda's work</tspan><tspan x="1086" dy="6.2">in Virtual Reality by</tspan><tspan x="1086" dy="6.2">visiting her website</tspan><tspan x="1086" dy="6.2">marindabotha dot co</tspan><tspan x="1086" dy="6.2">dot uk. Do you have</tspan><tspan x="1086" dy="6.2">another question for</tspan><tspan x="1086" dy="6.2">me?</tspan></text></g>

<g id="F4"><rect class="red" x="1000" y="813" width="49" height="44"/>
<text class="w s3" x="1024" y="821.5"><tspan x="1024">F4</tspan><tspan x="1024" dy="6.2">Please say &quot;confirm&quot;</tspan><tspan x="1024" dy="6.2">to allow me to</tspan><tspan x="1024" dy="6.2">capture the email</tspan><tspan x="1024" dy="6.2">address associated</tspan><tspan x="1024" dy="6.2">with this account.</tspan></text></g>

<g id="F5"><rect class="red" x="1000" y="882" width="49" height="81"/>
<text class="w s3" x="1024" y="890.5"><tspan x="1024">F5</tspan><tspan x="1024" dy="6.2">(Capture email</tspan><tspan x="1024" dy="6.2">address)</tspan><tspan x="1024" dy="12.4">Thank you. I will send</tspan><tspan x="1024" dy="6.2">you more information</tspan><tspan x="1024" dy="6.2">about the exciting</tspan><tspan x="1024" dy="6.2">work Marinda does in</tspan><tspan x="1024" dy="6.2">VR to [captured</tspan><tspan x="1024" dy="6.2">address]. Do you</tspan><tspan x="1024" dy="6.2">have another</tspan><tspan x="1024" dy="6.2">question?</tspan></text></g>
</svg>
